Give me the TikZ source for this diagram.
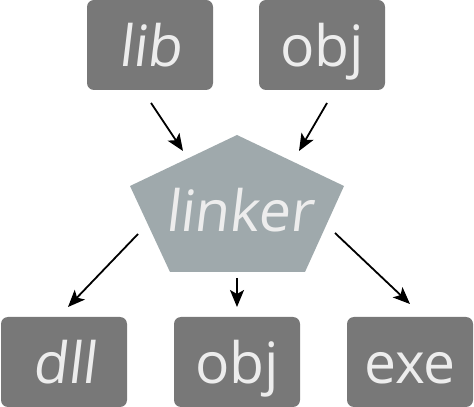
\documentclass[tikz,border=0pt]{standalone}
\usepackage{fontspec}
\setmainfont{Open Sans}
\newfontfamily\slantfont[FakeSlant=0.12]{Open Sans}
\usepackage{tikz}
\usetikzlibrary{arrows.meta}
\definecolor{boxgray}{RGB}{120,120,120}
\definecolor{pentgray}{RGB}{159,169,172}
\definecolor{txtgray}{RGB}{237,237,237}

\begin{document}
\begin{tikzpicture}[
    x=1pt, y=1pt,
    box/.style={fill=boxgray, rounded corners=7pt, minimum width=126pt, minimum height=90pt,
        inner sep=0pt, text height=44pt, text depth=0pt, text=txtgray, font=\fontsize{57}{60}\selectfont},
    arr/.style={-{Stealth[length=17pt, width=14pt, inset=4pt]}, line width=1.8pt}
]
\useasboundingbox (0,0) rectangle (474,407);

% inputs
\node[box] (lib) at (150,362) {\slantfont lib};
\node[box] (objin) at (322,362) {obj};

% linker
\fill[pentgray] (237,272) -- (344,221) -- (305,135) -- (170,135) -- (130,221) -- cycle;
\node[text=txtgray, anchor=base, inner sep=0pt, font=\fontsize{57}{60}\selectfont] (linker) at (239,175) {\slantfont linker};

% outputs
\node[box] (dll) at (64,45) {\slantfont dll};
\node[box] (objout) at (237,45) {obj};
\node[box] (exe) at (410,45) {exe};

% arrow ends
\coordinate (libout) at (151,304);
\coordinate (objinout) at (327,304);
\coordinate (linkl) at (183,256);
\coordinate (linkr) at (299,256);
\coordinate (outl) at (138,173);
\coordinate (outm) at (237,129);
\coordinate (outr) at (335,174);
\coordinate (dllin) at (68,100);
\coordinate (objoutin) at (237,100);
\coordinate (exein) at (410,103);

\draw[arr] (libout) -- (linkl);
\draw[arr] (objinout) -- (linkr);
\draw[arr] (outl) -- (dllin);
\draw[arr] (outm) -- (objoutin);
\draw[arr] (outr) -- (exein);

\end{tikzpicture}
\end{document}
